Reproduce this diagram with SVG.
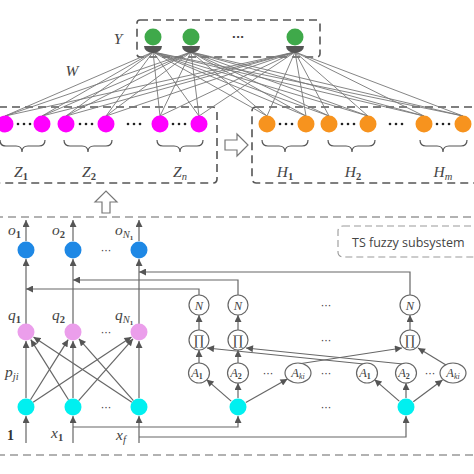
<svg xmlns="http://www.w3.org/2000/svg" width="474" height="474" viewBox="0 0 474 474">
<style>
.bx{fill:none;stroke:#555;stroke-width:1.6;stroke-dasharray:8 5}
.bx2{fill:none;stroke:#999;stroke-width:1.4;stroke-dasharray:8 5}
.w{stroke:#777;stroke-width:0.9;fill:none}
.ln{stroke:#666;stroke-width:1.2;fill:none}
.ar{stroke:#666;stroke-width:1.2;fill:none;marker-end:url(#ah)}
.br{stroke:#555;stroke-width:1.2;fill:none}
.m{font-family:'Liberation Serif',serif;font-style:italic;font-size:15.5px;fill:#444}
.sb{font-style:normal;font-size:10.5px;font-weight:bold}
.sbi{font-size:10.5px}
.dot{fill:#222}
.el{font-family:'DejaVu Sans',sans-serif;font-size:11px;fill:#444;text-anchor:middle}
.fz{fill:#fff;stroke:#666;stroke-width:1.2}
.fl{font-family:'Liberation Serif',serif;font-style:italic;font-size:12.5px;fill:#444;text-anchor:middle}
.pi{font-family:'DejaVu Serif',serif;font-size:13px;fill:#444;text-anchor:middle}
.hol{fill:#fff;stroke:#777;stroke-width:1.2}
</style>
<defs>
<marker id="ah" viewBox="0 0 10 10" refX="10" refY="5" markerWidth="8" markerHeight="7" markerUnits="userSpaceOnUse" orient="auto"><path d="M0,0 L10,5 L0,10 z" fill="#555"/></marker>
</defs>

<!-- boxes -->
<rect class="bx" x="137" y="20" width="183" height="37" rx="3"/>
<rect class="bx" x="-5" y="107" width="222" height="76" rx="4"/>
<rect class="bx" x="252" y="107" width="230" height="76" rx="4"/>
<rect class="bx2" x="-5" y="217" width="484" height="238"/>
<g id="ts-box">
<rect x="338" y="226" width="145" height="31" rx="5" fill="none" stroke="#999" stroke-width="1.1" stroke-dasharray="7 4"/>
<text x="352" y="247" font-family="'Open Sans',sans-serif" font-size="12.5" fill="#444">TS fuzzy subsystem</text>
</g>

<!-- hollow arrows -->
<path class="hol" d="M225,140 H237 V134 L248,145 L237,156 V150 H225 Z"/>
<path class="hol" d="M102,213 V202 H95 L106,191 L117,202 H110 V213 Z"/>

<!-- connectors -->
<g id="connectors">
<g id="w-lines">
<path class="w" d="M153,52 L5,116 M153,52 L42,116 M153,52 L66,116 M153,52 L106,116 M153,52 L160,116 M153,52 L199,116 M153,52 L267,116 M153,52 L306,116 M153,52 L329,116 M153,52 L368,116 M153,52 L424,116 M153,52 L463,116"/>
<path class="w" d="M191,52 L5,116 M191,52 L42,116 M191,52 L66,116 M191,52 L106,116 M191,52 L160,116 M191,52 L199,116 M191,52 L267,116 M191,52 L306,116 M191,52 L329,116 M191,52 L368,116 M191,52 L424,116 M191,52 L463,116"/>
<path class="w" d="M295,52 L5,116 M295,52 L42,116 M295,52 L66,116 M295,52 L106,116 M295,52 L160,116 M295,52 L199,116 M295,52 L267,116 M295,52 L306,116 M295,52 L329,116 M295,52 L368,116 M295,52 L424,116 M295,52 L463,116"/>
</g>
<!-- outputs -->
<path class="ar" d="M26,241 V220"/>
<path class="ar" d="M73,241 V220"/>
<path class="ar" d="M139,241 V220"/>
<path class="ar" d="M26,324 V259"/>
<path class="ar" d="M73,324 V259"/>
<path class="ar" d="M139,324 V259"/>
<!-- N to consequents -->
<path class="ar" d="M199,295 V289 H26"/>
<path class="ar" d="M238,295 V280 H73"/>
<path class="ar" d="M410,295 V272 H139"/>
<!-- cyan to pink -->
<path class="ar" d="M26,398 V341"/>
<path class="ar" d="M73,398 V341"/>
<path class="ar" d="M139,398 V341"/>
<path class="ar" d="M30.5,399.8 L68.2,339.6"/>
<path class="ar" d="M33.1,402.3 L131.5,337"/>
<path class="ar" d="M68.5,399.8 L30.8,339.6"/>
<path class="ar" d="M78.6,400.6 L133,338.8"/>
<path class="ar" d="M131.9,402.3 L33.5,337"/>
<path class="ar" d="M133.4,400.6 L78.9,338.8"/>
<!-- inputs -->
<path class="ar" d="M26,443 V416"/>
<path class="ar" d="M73,443 V416"/>
<path class="ar" d="M139,443 V416"/>
<path class="ar" d="M73,427 H238 V416"/>
<path class="ar" d="M139,437 H406 V416"/>
<!-- fuzzy -->
<path class="ar" d="M231.2,401.1 L206.5,379.6"/>
<path class="ar" d="M238,398 V383"/>
<path class="ar" d="M245.8,402.6 L287.5,379"/>
<path class="ar" d="M399.2,401.1 L374.5,379.6"/>
<path class="ar" d="M406,398 V383"/>
<path class="ar" d="M413.3,401.7 L442.5,380"/>
<path class="ar" d="M199,363 V350"/>
<path class="ar" d="M238,363 V350"/>
<path class="ar" d="M364,364 L207,348"/>
<path class="ar" d="M403,364 L246,348"/>
<path class="ar" d="M298,364 L402,348"/>
<path class="ar" d="M446,365 L418,348"/>
<path class="ar" d="M199,330 V315"/>
<path class="ar" d="M238,330 V315"/>
<path class="ar" d="M410,330 V315"/>
</g>

<!-- Y nodes -->
<g id="Y">
<circle cx="153" cy="37" r="8.5" fill="#3fa94a"/>
<circle cx="191" cy="37" r="8.5" fill="#3fa94a"/>
<circle cx="295" cy="37" r="8.5" fill="#3fa94a"/>
<path d="M144,46 A9,7 0 0 0 162,46 Z" fill="#555"/>
<path d="M182,46 A9,7 0 0 0 200,46 Z" fill="#555"/>
<path d="M286,46 A9,7 0 0 0 304,46 Z" fill="#555"/>
<text x="238" y="41" class="el" font-weight="bold" fill="#222">···</text>
<text x="118" y="44" class="m" text-anchor="middle">Y</text>
<text x="72" y="76" class="m" text-anchor="middle">W</text>
</g>

<!-- Z nodes -->
<g id="Z">
<circle cx="5" cy="124" r="8.5" fill="#ff00ff"/>
<circle cx="42" cy="124" r="8.5" fill="#ff00ff"/>
<circle cx="66" cy="124" r="8.5" fill="#ff00ff"/>
<circle cx="106" cy="124" r="8.5" fill="#ff00ff"/>
<circle cx="160" cy="124" r="8.5" fill="#ff00ff"/>
<circle cx="199" cy="124" r="8.5" fill="#ff00ff"/>
<g class="dot"><circle cx="18" cy="124" r="1.3"/><circle cx="24" cy="124" r="1.3"/><circle cx="30" cy="124" r="1.3"/>
<circle cx="80" cy="124" r="1.3"/><circle cx="86" cy="124" r="1.3"/><circle cx="92" cy="124" r="1.3"/>
<circle cx="128" cy="124" r="1.3"/><circle cx="134" cy="124" r="1.3"/><circle cx="140" cy="124" r="1.3"/>
<circle cx="173" cy="124" r="1.3"/><circle cx="179" cy="124" r="1.3"/><circle cx="185" cy="124" r="1.3"/></g>
<path class="br" d="M0,140 Q0,146 6,146 L16,146 Q22,146 22,152 Q22,146 28,146 L39,146 Q45,146 45,140"/>
<path class="br" d="M64,140 Q64,146 70,146 L82,146 Q88,146 88,152 Q88,146 94,146 L106,146 Q112,146 112,140"/>
<path class="br" d="M157,140 Q157,146 163,146 L174,146 Q180,146 180,152 Q180,146 186,146 L197,146 Q203,146 203,140"/>
<text x="21" y="177" class="m" text-anchor="middle">Z<tspan class="sb" dy="3">1</tspan></text>
<text x="89" y="177" class="m" text-anchor="middle">Z<tspan class="sb" dy="3">2</tspan></text>
<text x="180" y="177" class="m" text-anchor="middle">Z<tspan class="sbi" dy="3">n</tspan></text>
</g>

<!-- H nodes -->
<g id="H">
<circle cx="267" cy="124" r="8.5" fill="#f7931e"/>
<circle cx="306" cy="124" r="8.5" fill="#f7931e"/>
<circle cx="329" cy="124" r="8.5" fill="#f7931e"/>
<circle cx="368" cy="124" r="8.5" fill="#f7931e"/>
<circle cx="424" cy="124" r="8.5" fill="#f7931e"/>
<circle cx="463" cy="124" r="8.5" fill="#f7931e"/>
<g class="dot"><circle cx="280" cy="124" r="1.3"/><circle cx="286" cy="124" r="1.3"/><circle cx="292" cy="124" r="1.3"/>
<circle cx="342" cy="124" r="1.3"/><circle cx="348" cy="124" r="1.3"/><circle cx="354" cy="124" r="1.3"/>
<circle cx="390" cy="124" r="1.3"/><circle cx="396" cy="124" r="1.3"/><circle cx="402" cy="124" r="1.3"/>
<circle cx="437" cy="124" r="1.3"/><circle cx="443" cy="124" r="1.3"/><circle cx="449" cy="124" r="1.3"/></g>
<path class="br" d="M262,140 Q262,146 268,146 L279,146 Q285,146 285,152 Q285,146 291,146 L302,146 Q308,146 308,140"/>
<path class="br" d="M328,140 Q328,146 334,146 L346,146 Q352,146 352,152 Q352,146 358,146 L369,146 Q375,146 375,140"/>
<path class="br" d="M420,140 Q420,146 426,146 L437,146 Q443,146 443,152 Q443,146 449,146 L461,146 Q467,146 467,140"/>
<text x="285" y="177" class="m" text-anchor="middle">H<tspan class="sb" dy="3">1</tspan></text>
<text x="353" y="177" class="m" text-anchor="middle">H<tspan class="sb" dy="3">2</tspan></text>
<text x="443" y="177" class="m" text-anchor="middle">H<tspan class="sbi" dy="3">m</tspan></text>
</g>

<!-- output nodes -->
<g id="O">
<circle cx="26" cy="250" r="8.5" fill="#1e88e5"/>
<circle cx="73" cy="250" r="8.5" fill="#1e88e5"/>
<circle cx="139" cy="250" r="8.5" fill="#1e88e5"/>
<text x="106" y="254" class="el">···</text>
<text x="8" y="235" class="m">o<tspan class="sb" dy="3">1</tspan></text>
<text x="52" y="235" class="m">o<tspan class="sb" dy="3">2</tspan></text>
<text x="115" y="235" class="m">o<tspan class="sbi" dy="3">N</tspan><tspan font-size="7" font-style="normal" font-weight="bold" dy="2">1</tspan></text>
</g>

<!-- consequent nodes -->
<g id="Q">
<circle cx="26" cy="332" r="8.5" fill="#eb9eeb"/>
<circle cx="73" cy="332" r="8.5" fill="#eb9eeb"/>
<circle cx="139" cy="332" r="8.5" fill="#eb9eeb"/>
<text x="106" y="336" class="el">···</text>
<text x="8" y="320" class="m">q<tspan class="sb" dy="3">1</tspan></text>
<text x="52" y="320" class="m">q<tspan class="sb" dy="3">2</tspan></text>
<text x="115" y="320" class="m">q<tspan class="sbi" dy="3">N</tspan><tspan font-size="7" font-style="normal" font-weight="bold" dy="2">1</tspan></text>
<text x="5" y="377" class="m">p<tspan class="sbi" dy="3">ji</tspan></text>
</g>

<!-- input nodes -->
<g id="X">
<circle cx="26" cy="407" r="8.5" fill="#00f0f0"/>
<circle cx="73" cy="407" r="8.5" fill="#00f0f0"/>
<circle cx="139" cy="407" r="8.5" fill="#00f0f0"/>
<text x="106" y="411" class="el">···</text>
<text x="7" y="440" font-family="'Liberation Serif',serif" font-weight="bold" font-size="14" fill="#333">1</text>
<text x="51" y="438" class="m">x<tspan class="sb" dy="3">1</tspan></text>
<text x="116" y="440" class="m">x<tspan class="sbi" dy="3">f</tspan></text>
</g>

<!-- fuzzy subsystem -->
<g id="fuzzy">
<g id="N-nodes">
<circle class="fz" cx="199" cy="305" r="10"/><text x="199" y="309.5" class="fl">N</text>
<circle class="fz" cx="238" cy="305" r="10"/><text x="238" y="309.5" class="fl">N</text>
<circle class="fz" cx="410" cy="305" r="10"/><text x="410" y="309.5" class="fl">N</text>
<text x="326" y="309" class="el">···</text>
</g>
<g id="P-nodes">
<circle class="fz" cx="199" cy="340" r="10"/><text x="199" y="345" class="pi">∏</text>
<circle class="fz" cx="238" cy="340" r="10"/><text x="238" y="345" class="pi">∏</text>
<circle class="fz" cx="410" cy="340" r="10"/><text x="410" y="345" class="pi">∏</text>
<text x="326" y="344" class="el">···</text>
</g>
<g id="A-nodes">
<ellipse class="fz" cx="199" cy="373" rx="10.5" ry="10"/><text x="197" y="377" class="fl">A<tspan font-size="8" font-style="normal" font-weight="bold" dy="2">1</tspan></text>
<ellipse class="fz" cx="238" cy="373" rx="10.5" ry="10"/><text x="236" y="377" class="fl">A<tspan font-size="8" font-style="normal" font-weight="bold" dy="2">2</tspan></text>
<ellipse class="fz" cx="298" cy="373" rx="13" ry="10"/><text x="298" y="377" class="fl">A<tspan font-size="8" dy="2">ki</tspan></text>
<text x="268" y="377" class="el">···</text>
<text x="326" y="377" class="el">···</text>
<ellipse class="fz" cx="367" cy="373" rx="10.5" ry="10"/><text x="365" y="377" class="fl">A<tspan font-size="8" font-style="normal" font-weight="bold" dy="2">1</tspan></text>
<ellipse class="fz" cx="406" cy="373" rx="10.5" ry="10"/><text x="404" y="377" class="fl">A<tspan font-size="8" font-style="normal" font-weight="bold" dy="2">2</tspan></text>
<ellipse class="fz" cx="453" cy="373" rx="13" ry="10"/><text x="453" y="377" class="fl">A<tspan font-size="8" dy="2">ki</tspan></text>
<text x="430" y="377" class="el">···</text>
</g>
<g id="F-inputs">
<circle cx="238" cy="407" r="8.5" fill="#00f0f0"/>
<circle cx="406" cy="407" r="8.5" fill="#00f0f0"/>
<text x="326" y="411" class="el">···</text>
</g>
</g>
</svg>
